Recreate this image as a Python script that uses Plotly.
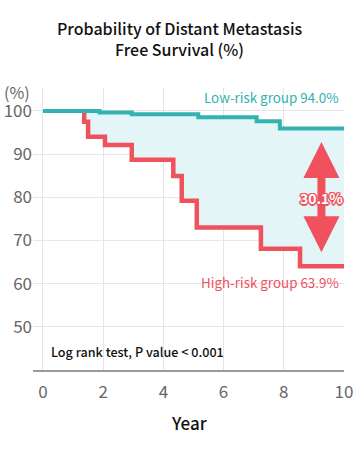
import plotly.graph_objects as go

# Data
low_years = [0, 1.88, 2.95, 5.16, 7.10, 7.87, 10]
low_values = [100, 99.6, 99.2, 98.5, 97.6, 95.9, 95.9]
high_years = [1.37, 1.37, 1.50, 2.06, 2.95, 4.33, 4.61, 5.11, 7.24, 8.54, 10]
high_values = [100, 97.5, 94.0, 92.1, 88.7, 84.9, 79.2, 73.0, 68.1, 64.0, 64.0]
x_ticks = [0, 2, 4, 6, 8, 10]
y_ticks = [50, 60, 70, 80, 90, 100]
title_lines = ["Probability of Distant Metastasis", "Free Survival (%)"]
low_label = "Low-risk group 94.0%"
high_label = "High-risk group 63.9%"
diff_label = "30.1%"
arrow_x = 9.25
arrow_top = 92.8
arrow_bottom = 66.9

TEAL = "#32b2b0"
RED = "#f0525d"
FILL = "#e3f5f6"
FONT = "Noto Sans CJK KR"

fig = go.Figure()
# fill base (teal, invisible)
fig.add_trace(go.Scatter(x=low_years, y=low_values, mode="lines", line=dict(shape="hv", width=0, color=TEAL),
                         showlegend=False, hoverinfo="skip"))
fig.add_trace(go.Scatter(x=high_years, y=high_values, mode="lines", line=dict(shape="hv", width=0, color=RED),
                         fill="tonexty", fillcolor=FILL, showlegend=False, hoverinfo="skip"))
fig.add_trace(go.Scatter(x=high_years, y=high_values, mode="lines", line=dict(shape="hv", width=4.5, color=RED),
                         showlegend=False))
fig.add_trace(go.Scatter(x=low_years, y=low_values, mode="lines", line=dict(shape="hv", width=4, color=TEAL),
                         showlegend=False))

outline = ", ".join("%s %s 0 %s" % (dx, dy, RED) for dx, dy in
                    [("1.5px", "0"), ("-1.5px", "0"), ("0", "1.5px"), ("0", "-1.5px"),
                     ("1px", "1px"), ("-1px", "-1px"), ("1px", "-1px"), ("-1px", "1px")])

# plot area spans x 33..344 px and y 88..370 px
def px_to_paper_y(py):
    return (370 - py) / 282.0

annotations = [
    dict(x=arrow_x, y=arrow_top, ax=arrow_x, ay=arrow_bottom, xref="x", yref="y", axref="x", ayref="y",
         text="", showarrow=True, arrowhead=2, startarrowhead=2, arrowside="end+start",
         arrowwidth=8, arrowsize=0.9, startarrowsize=0.9, arrowcolor=RED),
    dict(x=arrow_x, y=(arrow_top + arrow_bottom) / 2, xref="x", yref="y", text="<b>" + diff_label + "</b>",
         showarrow=False, font=dict(family=FONT, size=14, color="white", shadow=outline)),
    dict(x=10, y=103.2, xref="x", yref="y", text=low_label, showarrow=False,
         xanchor="right", yanchor="middle", xshift=-3, font=dict(family=FONT, size=13.4, color=TEAL)),
    dict(x=10, y=60.4, xref="x", yref="y", text=high_label, showarrow=False,
         xanchor="right", yanchor="middle", xshift=-3, font=dict(family=FONT, size=13.4, color=RED)),
    dict(x=0.2, y=44.2, xref="x", yref="y", text="Log rank test, P value < 0.001", showarrow=False,
         xanchor="left", yanchor="middle", font=dict(family=FONT, size=12.6, color="#111", weight=500)),
    dict(x=-0.1, y=px_to_paper_y(92), xref="paper", yref="paper", text="(%)", showarrow=False,
         xanchor="left", yanchor="middle", font=dict(family=FONT, size=16, color="#666")),
    dict(x=0.5, y=px_to_paper_y(422), xref="paper", yref="paper", text="Year", showarrow=False,
         xanchor="center", yanchor="middle", font=dict(family=FONT, size=17, color="#111", weight=500)),
    dict(x=(179 - 33) / 311.0, y=px_to_paper_y(28), xref="paper", yref="paper", text=title_lines[0],
         showarrow=False, xanchor="center", yanchor="middle",
         font=dict(family=FONT, size=16, color="#111", weight=500)),
    dict(x=(179 - 33) / 311.0, y=px_to_paper_y(49), xref="paper", yref="paper", text=title_lines[1],
         showarrow=False, xanchor="center", yanchor="middle",
         font=dict(family=FONT, size=16, color="#111", weight=500)),
]

fig.update_layout(
    width=355, height=450,
    margin=dict(l=33, r=11, t=88, b=80),
    paper_bgcolor="white", plot_bgcolor="white",
    annotations=annotations,
    xaxis=dict(range=[-0.33, 10], tickvals=x_ticks, showgrid=True, gridcolor="#e6e6e6", gridwidth=1,
               zeroline=False, showline=True, linecolor="#9a9a9a", linewidth=1.5, automargin=False,
               ticks="outside", ticklen=6, tickcolor="rgba(0,0,0,0)",
               tickfont=dict(family=FONT, size=17, color="#666"), fixedrange=True),
    yaxis=dict(range=[40, 105.3], tickvals=y_ticks, showgrid=True, gridcolor="#e6e6e6", gridwidth=1,
               zeroline=False, showline=False, ticks="", automargin=False,
               tickfont=dict(family=FONT, size=17, color="#666"), fixedrange=True),
)

fig.write_html("out.html", config={"displayModeBar": False},
               post_script="document.body.style.margin='0';")
